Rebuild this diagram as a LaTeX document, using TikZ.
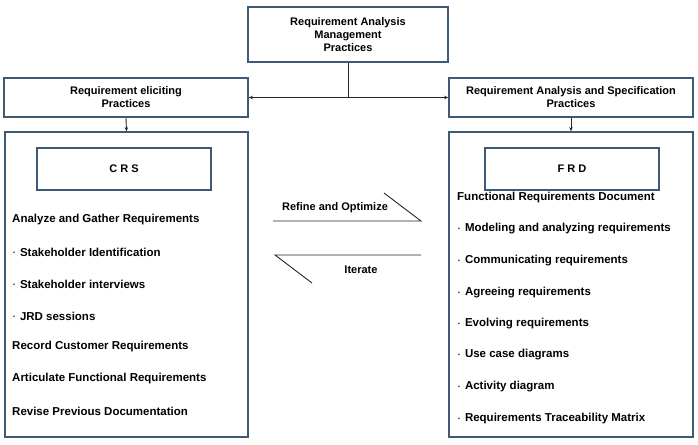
\documentclass[tikz,border=0pt]{standalone}
\usepackage{fontspec}
\setmainfont{Liberation Sans}
\usetikzlibrary{arrows.meta}
\definecolor{bd}{HTML}{3E5A74}
\newcommand{\mybul}{\raisebox{1.5pt}{\scalebox{0.45}{\textbullet}}\hspace{5pt}}
\begin{document}
\begin{tikzpicture}[x=1pt,y=-1pt,
 box/.style={draw=bd,line width=1.6pt},
 lbl/.style={font=\fontsize{11}{13}\selectfont\bfseries,align=center},
 txt/.style={font=\fontsize{11.5}{13}\selectfont\bfseries,anchor=west,inner sep=0pt},
 ln/.style={draw=black!85,line width=0.9pt},
 arr/.style={ln,-{Stealth[length=4pt,width=3.5pt]}}]
\useasboundingbox (0,0) rectangle (698,444);
\node[box,lbl,minimum width=200pt,minimum height=55pt] (top) at (348,34.5) {Requirement Analysis\\Management\\Practices};
\node[box,lbl,minimum width=244pt,minimum height=39pt] (left) at (126,97.5) {Requirement eliciting\\Practices};
\node[box,lbl,minimum width=244pt,minimum height=39pt] (right) at (571,97.5) {Requirement Analysis and Specification\\Practices};
\node[box,minimum width=243pt,minimum height=305pt] (lbig) at (126.5,284.5) {};
\node[box,minimum width=244pt,minimum height=305pt] (rbig) at (571,284.5) {};
\node[box,lbl,minimum width=174pt,minimum height=42pt] (crs) at (124,169) {C R S};
\node[box,lbl,minimum width=174pt,minimum height=42pt] (frd) at (572,169) {F R D};
\coordinate (j) at (348,97.5);
\draw[ln] (top.south) -- (j);
\draw[arr] (j) -- (left.east);
\draw[arr] (j) -- (right.west);
\draw[arr] (left.south) -- (lbig.north);
\draw[arr] (right.south) -- (rbig.north);
\coordinate (r1) at (273,221); \coordinate (r2) at (421,221); \coordinate (r3) at (384,193);
\draw[ln] (r1) -- (r2) -- (r3);
\node[lbl] (rt) at (335,208) {Refine and Optimize};
\coordinate (i1) at (421,255); \coordinate (i2) at (275,255); \coordinate (i3) at (312,283);
\draw[ln] (i1) -- (i2) -- (i3);
\node[lbl] (it) at (361,270) {Iterate};
\node[txt] (a1) at (12,220) {Analyze and Gather Requirements};
\foreach \y/\t [count=\k] in {252/Stakeholder Identification,284/Stakeholder interviews,316/JRD sessions}
 \node[txt] (lb\k) at (13,\y) {\mybul\t};
\node[txt] (a2) at (12,347) {Record Customer Requirements};
\node[txt] (a3) at (12,379) {Articulate Functional Requirements};
\node[txt] (a4) at (12,411) {Revise Previous Documentation};
\node[txt] (f0) at (457,198) {Functional Requirements Document};
\foreach \y/\t [count=\k] in {229/Modeling and analyzing requirements,261/Communicating requirements,293/Agreeing requirements,324/Evolving requirements,355/Use case diagrams,387/Activity diagram,419/Requirements Traceability Matrix}
 \node[txt] (rb\k) at (458,\y) {\mybul\t};
\end{tikzpicture}
\end{document}
